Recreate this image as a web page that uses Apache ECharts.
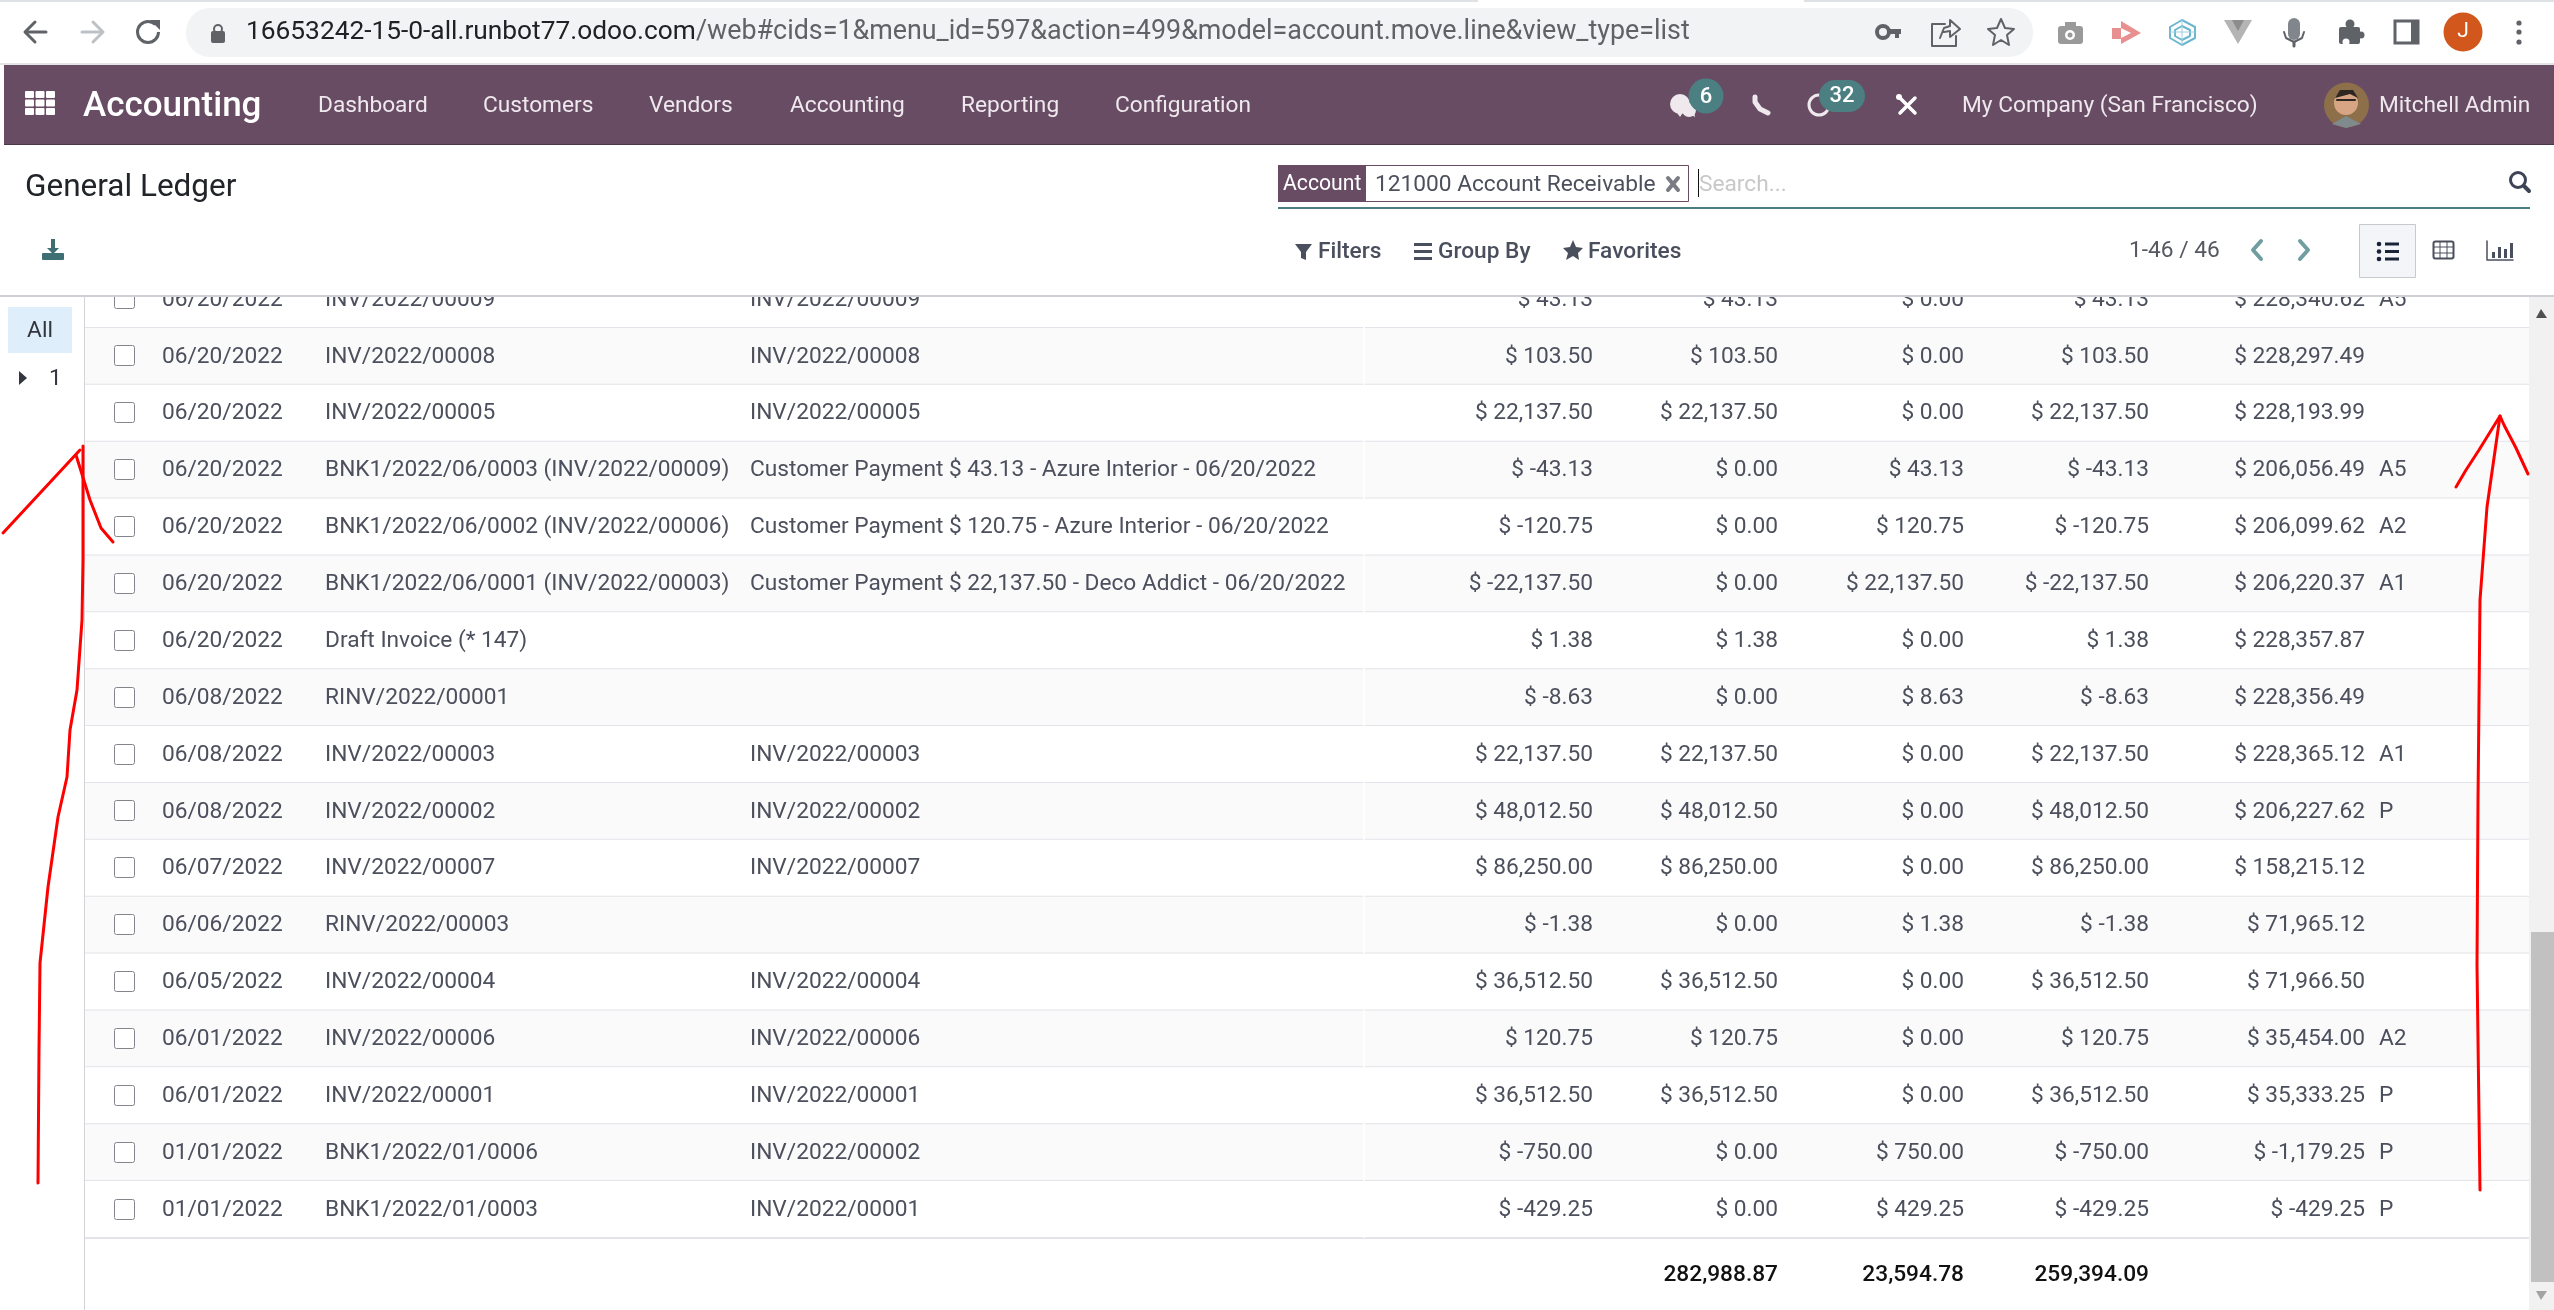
<!DOCTYPE html>
<html>
<head>
    <meta charset="utf-8" />
    <title>General Ledger</title>
    <style>
        html, body, #chart {
            width: 100%;
            height: 100%;
            margin: 0;
            padding: 0;
            overflow: hidden;
            background: #fff;
        }
    </style>
    <script src="https://cdn.jsdelivr.net/npm/echarts@6/dist/echarts.min.js"></script>
</head>
<body>
    <div id="chart"></div>
    <script>
        // table contents
        var dates = ['06/20/2022', '06/20/2022', '06/20/2022', '06/20/2022', '06/20/2022', '06/20/2022', '06/20/2022', '06/08/2022', '06/08/2022', '06/08/2022', '06/07/2022', '06/06/2022', '06/05/2022', '06/01/2022', '06/01/2022', '01/01/2022', '01/01/2022'];
        var moves = ['INV/2022/00009', 'INV/2022/00008', 'INV/2022/00005', 'BNK1/2022/06/0003 (INV/2022/00009)', 'BNK1/2022/06/0002 (INV/2022/00006)', 'BNK1/2022/06/0001 (INV/2022/00003)', 'Draft Invoice (* 147)', 'RINV/2022/00001', 'INV/2022/00003', 'INV/2022/00002', 'INV/2022/00007', 'RINV/2022/00003', 'INV/2022/00004', 'INV/2022/00006', 'INV/2022/00001', 'BNK1/2022/01/0006', 'BNK1/2022/01/0003'];
        var labels = ['INV/2022/00009', 'INV/2022/00008', 'INV/2022/00005', 'Customer Payment $ 43.13 - Azure Interior - 06/20/2022', 'Customer Payment $ 120.75 - Azure Interior - 06/20/2022', 'Customer Payment $ 22,137.50 - Deco Addict - 06/20/2022', '', '', 'INV/2022/00003', 'INV/2022/00002', 'INV/2022/00007', '', 'INV/2022/00004', 'INV/2022/00006', 'INV/2022/00001', 'INV/2022/00002', 'INV/2022/00001'];
        var amounts = [43.13, 103.5, 22137.5, -43.13, -120.75, -22137.5, 1.38, -8.63, 22137.5, 48012.5, 86250, -1.38, 36512.5, 120.75, 36512.5, -750, -429.25];
        var debits = [43.13, 103.5, 22137.5, 0, 0, 0, 1.38, 0, 22137.5, 48012.5, 86250, 0, 36512.5, 120.75, 36512.5, 0, 0];
        var credits = [0, 0, 0, 43.13, 120.75, 22137.5, 0, 8.63, 0, 0, 0, 1.38, 0, 0, 0, 750, 429.25];
        var balances = [43.13, 103.5, 22137.5, -43.13, -120.75, -22137.5, 1.38, -8.63, 22137.5, 48012.5, 86250, -1.38, 36512.5, 120.75, 36512.5, -750, -429.25];
        var cumulated = [228340.62, 228297.49, 228193.99, 206056.49, 206099.62, 206220.37, 228357.87, 228356.49, 228365.12, 206227.62, 158215.12, 71965.12, 71966.5, 35454, 35333.25, -1179.25, -429.25];
        var matching = ['A5', '', '', 'A5', 'A2', 'A1', '', '', 'A1', 'P', '', '', '', 'A2', 'P', 'P', 'P'];
        var totals = ['282,988.87', '23,594.78', '259,394.09'];
        var navItems = ['Dashboard', 'Customers', 'Vendors', 'Accounting', 'Reporting', 'Configuration'];

        var FONT = 'Roboto, sans-serif';
        var TEXT = '#4c4f5c';
        var PURPLE = '#674c64';
        var TEAL = '#4b7f82';
        var RED = '#ff0000';
        var TOP_Z = 50;

        function money(v) {
            return '$ ' + v.toLocaleString('en-US', { minimumFractionDigits: 2, maximumFractionDigits: 2 });
        }

        function tx(x, y, text, size, fill, weight, align) {
            return {
                type: 'text', z: TOP_Z + 1,
                style: {
                    x: x, y: y, text: text, fill: fill,
                    font: (weight || 400) + ' ' + size + 'px ' + FONT,
                    textAlign: align || 'left', textVerticalAlign: 'middle'
                }
            };
        }
        function re(x, y, w, h, fill, stroke, r, lineWidth) {
            return {
                type: 'rect', z: TOP_Z,
                shape: { x: x, y: y, width: w, height: h, r: r || 0 },
                style: { fill: fill || 'transparent', stroke: stroke || null, lineWidth: lineWidth || 1 }
            };
        }
        function ci(cx, cy, r, fill, stroke, width) {
            return {
                type: 'circle', z: TOP_Z + 1,
                shape: { cx: cx, cy: cy, r: r },
                style: { fill: fill || 'transparent', stroke: stroke || null, lineWidth: width || 1 }
            };
        }
        function ln(points, color, width, smooth) {
            return {
                type: 'polyline', z: TOP_Z + 2,
                shape: { points: points, smooth: smooth || 0 },
                style: { stroke: color, lineWidth: width || 2, fill: null, lineCap: 'round', lineJoin: 'round' }
            };
        }
        function poly(points, fill) {
            return { type: 'polygon', z: TOP_Z + 1, shape: { points: points }, style: { fill: fill } };
        }

        // browser toolbar, not part of the table
        function browserBar() {
            var g = [];
            g.push(re(0, 0, 2554, 65, '#fff'));
            g.push(re(0, 0, 1478, 2, '#dee1e6'), re(1804, 0, 750, 2, '#dee1e6'));
            g.push(re(0, 63, 2554, 2, '#e3e4e6'));
            g.push(ln([[46, 32], [26, 32]], '#5f6368', 3), ln([[35, 22], [25, 32], [35, 42]], '#5f6368', 3));
            g.push(ln([[82, 32], [102, 32]], '#bdc1c6', 3), ln([[93, 22], [103, 32], [93, 42]], '#bdc1c6', 3));
            g.push({
                type: 'arc', z: TOP_Z + 1,
                shape: { cx: 148, cy: 32, r: 10.5, startAngle: 0, endAngle: Math.PI * 2 - 0.8, clockwise: true },
                style: { stroke: '#5f6368', lineWidth: 3, fill: null }
            });
            g.push(poly([[150, 20], [160, 20], [160, 30]], '#5f6368'));
            g.push(re(186, 8, 1847, 49, '#f1f3f4', null, 24));
            g.push(re(211, 31, 14, 12, '#5f6368', null, 2));
            g.push(ci(218, 29, 4, null, '#5f6368', 2));
            g.push(tx(246, 32, '16653242-15-0-all.runbot77.odoo.com', 26.3, '#202124'));
            g.push(tx(696, 32, '/web#cids=1&menu_id=597&action=499&model=account.move.line&view_type=list', 26.85, '#5f6368'));
            // key, share, star
            g.push(ci(1883, 32, 6, null, '#5f6368', 4), re(1888, 29, 13, 5, '#5f6368'), re(1895, 33, 4, 5, '#5f6368'));
            g.push(ln([[1945, 24], [1932, 24], [1932, 46], [1956, 46], [1956, 36]], '#5f6368', 2));
            g.push(ln([[1940, 38], [1944, 28], [1950, 26], [1950, 20], [1960, 29], [1950, 37], [1950, 31], [1944, 32]], '#5f6368', 2));
            g.push(ln([[2001, 19], [2005, 28], [2014, 29], [2007, 35], [2009, 45], [2001, 40], [1993, 45], [1995, 35], [1988, 29], [1997, 28], [2001, 19]], '#5f6368', 2));
            // extension icons
            g.push(re(2058, 26, 25, 18, '#9a9a9a', null, 3), re(2065, 22, 11, 5, '#9a9a9a'), ci(2070, 35, 5, '#fff'), ci(2070, 35, 2.5, '#9a9a9a'));
            g.push(re(2112, 28, 9, 11, '#e88f8f'), poly([[2121, 21], [2141, 33], [2121, 44], [2121, 38], [2131, 33], [2121, 28]], '#e88f8f'));
            g.push(ln([[2182, 20], [2195, 27], [2195, 38], [2182, 45], [2170, 38], [2170, 27], [2182, 20]], '#6cb6d0', 2));
            g.push(ln([[2182, 26], [2190, 30], [2190, 36], [2182, 40], [2175, 36], [2175, 30], [2182, 26]], '#6cb6d0', 2));
            g.push(ln([[2170, 32], [2195, 32]], '#9dcfe0', 1), ln([[2182, 20], [2182, 45]], '#9dcfe0', 1));
            g.push(poly([[2224, 20], [2252, 20], [2238, 44]], '#b4b4b4'), poly([[2232, 20], [2244, 20], [2238, 31]], '#8c8c8c'));
            g.push(re(2288, 18, 12, 22, '#80868b', null, 6));
            g.push(ln([[2284, 32], [2286, 38], [2294, 42], [2302, 38], [2304, 32]], '#5f6368', 2), ln([[2294, 42], [2294, 46]], '#5f6368', 3));
            g.push(re(2339, 27, 21, 17, '#5f6368', null, 2), ci(2350, 24, 4.5, '#5f6368'), ci(2361, 35, 3.5, '#5f6368'), ci(2346, 42, 3.5, '#fff'));
            g.push(re(2395, 21, 23, 22, '#fff', '#5f6368', 0, 3));
            g.push(re(2411, 20, 8, 24, '#5f6368'));
            g.push(ci(2463, 32, 19.5, '#d2571c'));
            g.push(tx(2463, 32, 'J', 21, '#fff', 400, 'center'));
            g.push(ci(2519, 23, 2.6, '#5f6368'), ci(2519, 32, 2.6, '#5f6368'), ci(2519, 42, 2.6, '#5f6368'));
            return g;
        }

        // purple Odoo navbar
        function navBar() {
            var navX = [318, 483, 649, 790, 961, 1115];
            var g = [re(4, 65, 2550, 80, PURPLE), re(4, 144, 2550, 1, '#4a3648')];
            for (var r = 0; r < 3; r++) {
                for (var c = 0; c < 3; c++) {
                    g.push(re(25 + c * 10.5, 91 + r * 8.5, 9, 7, '#fff', null, 1));
                }
            }
            g.push(tx(83, 107, 'Accounting', 35, '#fff', 500));
            navItems.forEach(function (name, i) {
                g.push(tx(navX[i], 106, name, 22.7, '#efe9ee'));
            });
            // chat, phone, clock, tools
            g.push(ci(1680, 104, 10, '#efe9ee'), ci(1689, 110, 7, '#efe9ee'), poly([[1675, 110], [1680, 117], [1684, 111]], '#efe9ee'), poly([[1688, 113], [1695, 117], [1694, 110]], '#efe9ee'));
            g.push(ci(1706, 96, 17.5, TEAL), tx(1706, 97, '6', 22, '#fff', 500, 'center'));
            g.push(ln([[1755, 97], [1755, 102], [1760, 109], [1768, 113]], '#efe9ee', 5));
            g.push(ci(1819, 105, 10, null, '#efe9ee', 3));
            var badge = re(1819, 80, 46, 32, TEAL, null, 16);
            badge.z = TOP_Z + 1;
            g.push(badge, tx(1842, 96, '32', 22, '#fff', 500, 'center'));
            g.push(ln([[1900, 113], [1915, 98]], '#fff', 3.5), ln([[1900, 98], [1915, 113]], '#fff', 3.5), ci(1899, 97, 3, '#fff'));
            g.push(tx(1962, 106, 'My Company (San Francisco)', 22.7, '#efe9ee'));
            // avatar
            g.push(ci(2346.5, 105, 22.5, '#8d6f4a'), ci(2346, 103, 12, '#d8a584'));
            g.push(poly([[2335, 98], [2340, 90], [2353, 90], [2358, 98], [2350, 94]], '#2d2622'));
            g.push(ln([[2337, 100], [2355, 100]], '#2d2622', 2));
            g.push(poly([[2332, 124], [2346, 116], [2361, 124], [2346, 128]], '#7f8a8c'));
            g.push(tx(2379, 106, 'Mitchell Admin', 22.7, '#efe9ee'));
            return g;
        }

        // title, search facet, filter buttons and pager
        function controlPanel() {
            var g = [re(0, 145, 2554, 151, '#fff')];
            g.push(tx(25, 188, 'General Ledger', 31.5, '#212529'));
            g.push(re(42, 253, 22, 7, '#3f6f73', null, 1));
            g.push(poly([[51, 239], [55, 239], [55, 248], [59, 248], [53, 254], [47, 248], [51, 248]], '#3f6f73'));
            // facet
            g.push(re(1278.5, 165.5, 410, 36, '#fff', PURPLE));
            g.push(re(1278, 165, 88, 37, PURPLE));
            g.push(tx(1283, 185, 'Account', 21.2, '#fff'));
            g.push(tx(1375, 185, '121000 Account Receivable', 22.7, TEXT));
            g.push(ln([[1668, 178], [1678, 190]], '#7a7c85', 4), ln([[1678, 178], [1668, 190]], '#7a7c85', 4));
            g.push(re(1698, 169, 1, 28, '#111'));
            g.push(tx(1699, 185, 'Search...', 22.7, '#c8c8c8'));
            g.push(re(1278, 207, 1252, 2, TEAL));
            g.push(ci(2518, 180, 7.5, null, '#3e4456', 3), ln([[2524, 186], [2529, 191]], '#3e4456', 4));
            // filter row
            g.push(poly([[1295, 244], [1312, 244], [1306, 252], [1306, 260], [1301, 258], [1301, 252]], '#4a4f5e'));
            g.push(tx(1318, 252, 'Filters', 22.7, '#4a4f5e', 500));
            g.push(re(1414, 243, 18, 3, '#4a4f5e'), re(1414, 250, 18, 3, '#4a4f5e'), re(1414, 257, 18, 3, '#4a4f5e'));
            g.push(tx(1438, 252, 'Group By', 22.7, '#4a4f5e', 500));
            g.push(poly([[1573, 240], [1576, 247], [1583, 248], [1578, 253], [1579, 260], [1573, 256], [1566, 260], [1568, 253], [1563, 248], [1570, 247]], '#4a4f5e'));
            g.push(tx(1588, 252, 'Favorites', 22.7, '#4a4f5e', 500));
            // pager
            g.push(tx(2129, 251, '1-46 / 46', 22.7, '#55585f'));
            g.push(ln([[2261, 241], [2253, 250], [2261, 259]], '#6f9da0', 4));
            g.push(ln([[2300, 241], [2308, 250], [2300, 259]], '#6f9da0', 4));
            // view switcher
            g.push(re(2359.5, 224.5, 56, 53, '#f4f5f9', '#c8c9cf'));
            for (var i = 0; i < 3; i++) {
                g.push(ci(2379, 244 + i * 7.5, 2.3, '#1a2238'), re(2385, 242.5 + i * 7.5, 14, 3, '#1a2238'));
            }
            g.push(re(2433.5, 241.5, 20, 17, null, '#4a4f5e', 2, 2));
            g.push(ln([[2434, 247], [2453, 247]], '#4a4f5e', 1), ln([[2434, 253], [2453, 253]], '#4a4f5e', 1), ln([[2440, 242], [2440, 258]], '#4a4f5e', 1), ln([[2447, 242], [2447, 258]], '#4a4f5e', 1));
            g.push(ln([[2487, 241], [2487, 260], [2513, 260]], '#4a4f5e', 1.5));
            g.push(re(2492, 252, 3, 6, '#4a4f5e'), re(2498, 247, 3, 11, '#4a4f5e'), re(2504, 249, 3, 9, '#4a4f5e'), re(2510, 243, 3, 15, '#4a4f5e'));
            g.push(re(0, 295, 2554, 2, '#cfd0d6'));
            return g;
        }

        // side panel, footer totals and the scrollbar
        function sideAndFooter() {
            var totalX = [1778, 1964, 2149];
            var g = [re(0, 297, 84, 1013, '#fff'), re(84, 297, 1, 1013, '#d4d4d8')];
            g.push(re(8, 307, 64, 46, '#dfeefb'));
            g.push(tx(40, 331.5, 'All', 22.7, '#33363f', 400, 'center'));
            g.push(poly([[19, 371], [27, 378], [19, 385]], '#33363f'));
            g.push(tx(49, 379, '1', 22.7, '#33363f'));
            totals.forEach(function (t, i) {
                g.push(tx(totalX[i], 1275, t, 22.7, '#111', 500, 'right'));
            });
            g.push(re(2529, 297, 25, 1013, '#f1f1f1'));
            g.push(re(2531, 932, 23, 350, '#c1c1c1'));
            g.push(poly([[2536, 318], [2541, 309], [2547, 318]], '#505050'));
            g.push(poly([[2536, 1291], [2547, 1291], [2541, 1300]], '#a3a3a3'));
            return g;
        }

        // hand drawn red arrows on top of the screenshot
        function arrows() {
            return [
                ln([[83, 446], [83, 560], [82, 620], [77, 690], [70, 730], [67, 777], [58, 817], [48, 887], [40, 963], [39, 1050], [38, 1183]], RED, 3),
                ln([[3, 533], [80, 450]], RED, 3),
                ln([[76, 455], [90, 500], [101, 528], [113, 542]], RED, 3),
                ln([[2500, 416], [2487, 507], [2480, 600], [2478, 800], [2477, 965], [2480, 1190]], RED, 3),
                ln([[2456, 487], [2466, 470], [2479, 450], [2500, 416], [2504, 425], [2516, 448], [2528, 474]], RED, 3)
            ];
        }

        var rowIndexes = dates.map(function (d, i) { return [0, i]; });

        function renderRow(params, api) {
            var i = api.value(1);
            var y = api.coord([0, i])[1];
            var h = api.size([0, 1])[1];
            var colX = { box: 114, date: 162, move: 325, label: 750, amount: 1593, debit: 1778, credit: 1964, balance: 2149, cumul: 2365, match: 2379, end: 2529, split: 1363 };
            var left = api.coord([85, i])[0];
            var kids = [];
            function cell(key, text, align, fill) {
                kids.push({
                    type: 'text',
                    style: {
                        x: api.coord([colX[key], i])[0], y: y + 0.5, text: text, fill: fill || TEXT,
                        font: '400 22.7px ' + FONT, textAlign: align, textVerticalAlign: 'middle'
                    }
                });
            }
            kids.push({
                type: 'rect',
                shape: { x: left, y: y - h / 2, width: api.coord([colX.end, i])[0] - left, height: h },
                style: { fill: i % 2 ? '#fafafb' : '#fff' }
            });
            kids.push({
                type: 'rect',
                shape: { x: left, y: y + h / 2 - 1, width: api.coord([colX.end, i])[0] - left, height: 2 },
                style: { fill: '#e3e3e9' }
            });
            kids.push({
                type: 'rect',
                shape: { x: api.coord([colX.split, i])[0], y: y - h / 2, width: 2, height: h },
                style: { fill: 'rgba(255,255,255,0.8)' }
            });
            kids.push({
                type: 'rect',
                shape: { x: api.coord([colX.box, i])[0] + 0.5, y: Math.round(y) - 10.5, width: 20, height: 20, r: 2 },
                style: { fill: '#fff', stroke: '#84858c', lineWidth: 1 }
            });
            cell('date', dates[i], 'left');
            cell('move', moves[i], 'left');
            cell('label', labels[i], 'left');
            cell('amount', money(amounts[i]), 'right');
            cell('debit', money(debits[i]), 'right');
            cell('credit', money(credits[i]), 'right');
            cell('balance', money(balances[i]), 'right');
            cell('cumul', money(cumulated[i]), 'right');
            cell('match', matching[i], 'left');
            return { type: 'group', children: kids };
        }

        var myChart = echarts.init(document.getElementById('chart'), null, { renderer: 'canvas' });
        myChart.setOption({
            animation: false,
            backgroundColor: '#fff',
            grid: { left: 0, right: 0, top: 271, height: 967, containLabel: false },
            xAxis: { type: 'value', min: 0, max: 2554, show: false },
            yAxis: { type: 'category', inverse: true, data: moves, show: false },
            series: [{
                type: 'custom',
                renderItem: renderRow,
                encode: { x: 0, y: 1 },
                data: rowIndexes,
                z: 1
            }],
            graphic: {
                elements: [].concat(controlPanel(), navBar(), browserBar(), sideAndFooter(), arrows())
            }
        });
    </script>
</body>
</html>
